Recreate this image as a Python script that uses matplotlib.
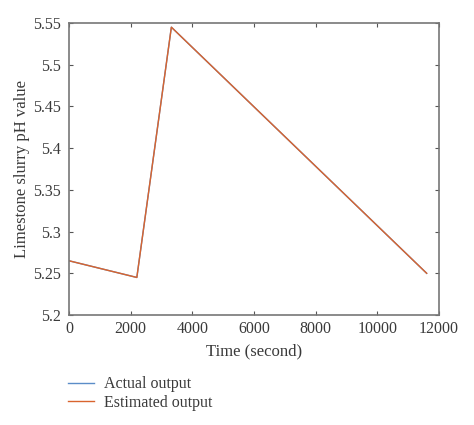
import matplotlib
matplotlib.use("Agg")
import matplotlib.pyplot as plt

time_s = [0, 2200, 3320, 11600]
actual_ph = [5.265, 5.245, 5.545, 5.250]
estimated_ph = [5.265, 5.245, 5.545, 5.250]
x_ticks = [0, 2000, 4000, 6000, 8000, 10000, 12000]
y_ticks = [5.2, 5.25, 5.3, 5.35, 5.4, 5.45, 5.5, 5.55]
y_labels = ["5.2", "5.25", "5.3", "5.35", "5.4", "5.45", "5.5", "5.55"]

plt.rcParams['font.family'] = ['Liberation Serif', 'DejaVu Serif']

fig = plt.figure(figsize=(4.74, 4.25), dpi=100)
ax = fig.add_axes([69/474, 1 - 315/425, 370/474, 292/425])

l1, = ax.plot(time_s, actual_ph, color='#5B8DC8', lw=1.0, label='Actual output')
l2, = ax.plot(time_s, estimated_ph, color='#D9642E', lw=1.0, label='Estimated output')

ax.set_xlim(0, 12000)
ax.set_ylim(5.2, 5.55)
ax.set_xticks(x_ticks)
ax.set_xticklabels([str(t) for t in x_ticks])
ax.set_yticks(y_ticks)
ax.set_yticklabels(y_labels)
ax.tick_params(direction='in', top=True, right=True, length=3, width=0.8,
               colors='#555555', labelcolor='#3a3a3a', labelsize=11.5)
ax.tick_params(axis='y', pad=6)
ax.tick_params(axis='x', pad=4)
for s in ax.spines.values():
    s.set_color('#777777')
    s.set_linewidth(1.2)
ax.set_xlabel('Time (second)', fontsize=12, color='#3a3a3a', labelpad=5)
ax.set_ylabel('Limestone slurry pH value', fontsize=12, color='#3a3a3a', labelpad=2)

fig.legend(handles=[l1, l2], loc='upper left', bbox_to_anchor=(54/474, 1 - 362/425),
           frameon=False, fontsize=11.5, handlelength=1.6, handletextpad=0.6,
           labelspacing=0.15, labelcolor='#3a3a3a')

fig.savefig('out.png', dpi=100, facecolor='white')
